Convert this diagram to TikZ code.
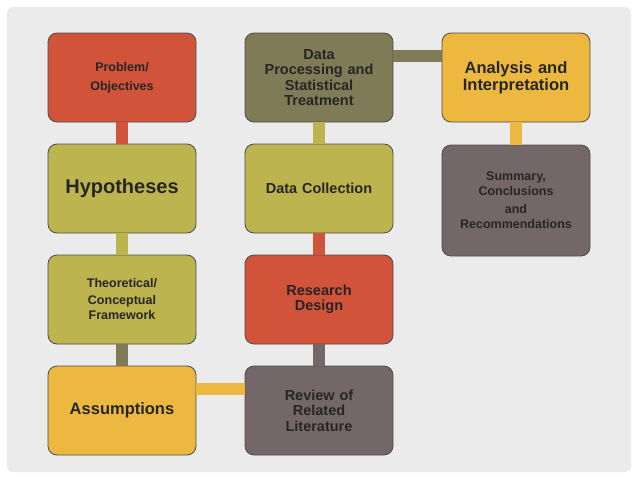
\documentclass[tikz,border=0pt]{standalone}
\usepackage{fontspec}
\setmainfont{Liberation Sans}
\definecolor{cred}{HTML}{D0533A}
\definecolor{cyel}{HTML}{BDB44F}
\definecolor{coli}{HTML}{7E7B56}
\definecolor{corg}{HTML}{EDB840}
\definecolor{cgry}{HTML}{74676A}
\definecolor{panel}{HTML}{EBEBEB}
\begin{document}
\begin{tikzpicture}[x=1pt,y=-1pt,
  box/.style={draw=black!70,line width=0.8pt,rounded corners=9pt,minimum width=148pt,minimum height=89pt,align=center,inner sep=3pt,text width=140pt,text=black!85},
  fa/.style={font=\bfseries\fontsize{12.5}{15}\selectfont},
  fb/.style={font=\bfseries\fontsize{14.5}{15.5}\selectfont},
  fc/.style={font=\bfseries\fontsize{16.5}{17.5}\selectfont},
  bar/.style={line width=12pt}]
\fill[white] (0,0) rectangle (638,479);
\fill[panel,rounded corners=6pt] (7,7) rectangle (631,472);
\node[box,fill=cred,fa] (p) at (122,77.5) {Problem/\\[4pt]Objectives};
\node[box,fill=cyel,font=\bfseries\fontsize{20}{22}\selectfont] (h) at (122,188.5) {Hypotheses};
\node[box,fill=cyel,fa] (t) at (122,299.5) {Theoretical/\\[2pt]Conceptual\\Framework};
\node[box,fill=corg,fc] (a) at (122,410.5) {Assumptions};
\node[box,fill=coli,fb] (dp) at (319,77.5) {Data\\Processing and\\Statistical\\Treatment};
\node[box,fill=cyel,fb] (dc) at (319,188.5) {Data Collection};
\node[box,fill=cred,fb] (rd) at (319,299.5) {Research\\Design};
\node[box,fill=cgry,fb] (rr) at (319,410.5) {Review of\\Related\\Literature};
\node[box,fill=corg,fc] (ai) at (516,77.5) {Analysis and\\Interpretation};
\node[box,fill=cgry,fa,minimum height=111pt] (s) at (516,200.5) {Summary,\\Conclusions\\[3pt]and\\Recommendations};
\draw[bar,cred] (p.south) -- (h.north);
\draw[bar,cyel] (h.south) -- (t.north);
\draw[bar,coli] (t.south) -- (a.north);
\draw[bar,corg] ([yshift=22pt]a.east) -- ([yshift=22pt]rr.west);
\draw[bar,cgry] (rr.north) -- (rd.south);
\draw[bar,cred] (rd.north) -- (dc.south);
\draw[bar,cyel] (dc.north) -- (dp.south);
\draw[bar,coli] ([yshift=22pt]dp.east) -- ([yshift=22pt]ai.west);
\draw[bar,corg] (ai.south) -- (s.north);
\end{tikzpicture}
\end{document}
